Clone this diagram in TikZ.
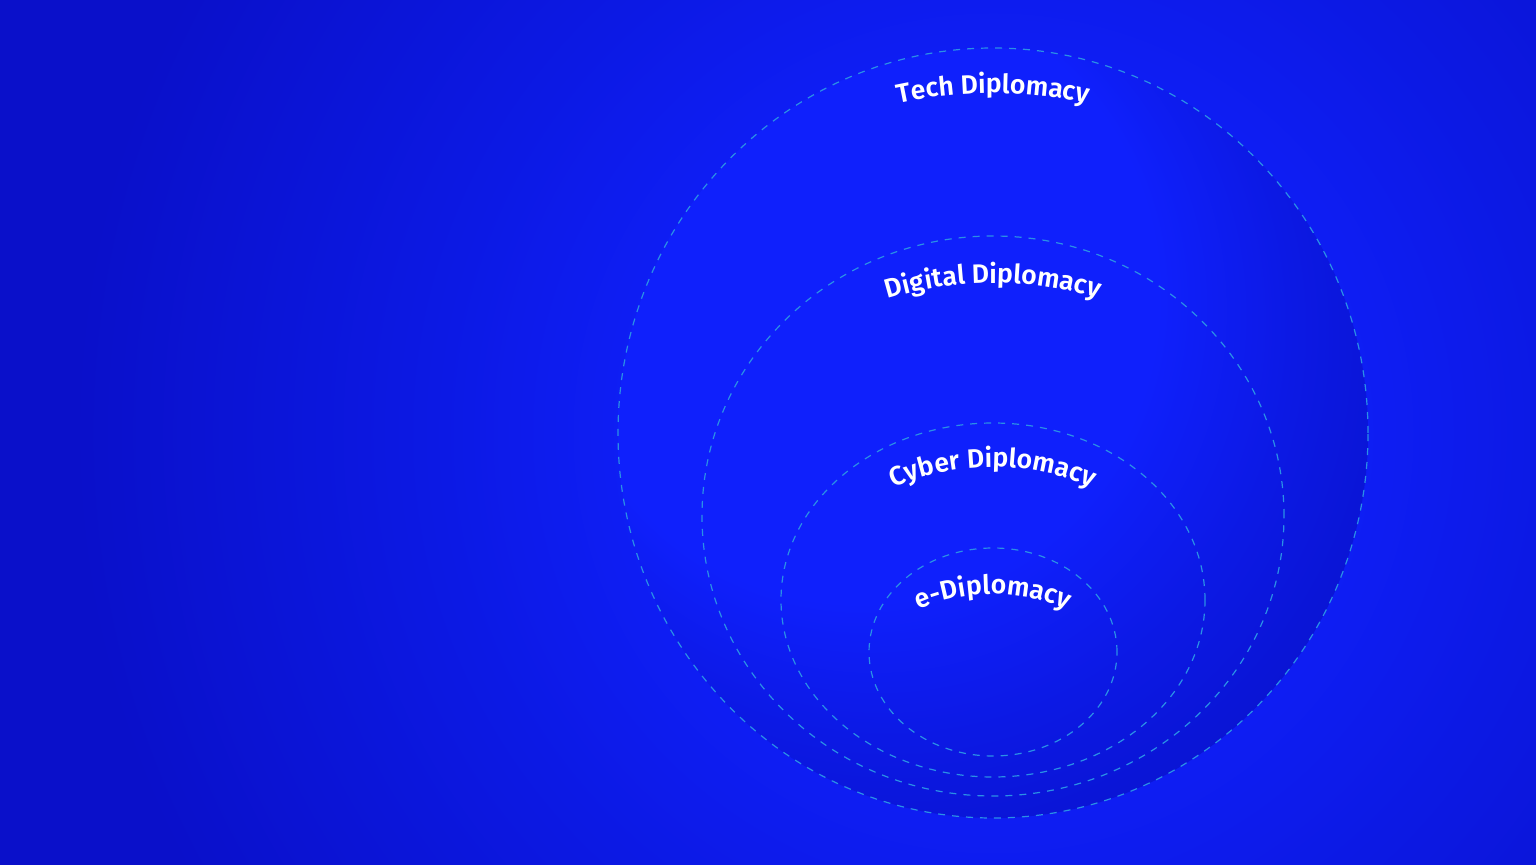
\documentclass[tikz,border=0pt]{standalone}
\usepackage{fontspec}
\usepackage{xcolor}
\usetikzlibrary{decorations.text}
\newfontfamily\labelfont{Fira Sans}[UprightFont={* SemiBold}]

\definecolor{bgdark}{HTML}{0A10CA}
\definecolor{bgmid}{HTML}{0C19E4}
\definecolor{glow}{HTML}{0F20FC}
\definecolor{shadow}{HTML}{0913D0}
\definecolor{ringline}{HTML}{2A90E6}

\pgfdeclareradialshading{backglow}{\pgfpoint{0bp}{0bp}}{color(0bp)=(glow); color(7bp)=(glow); color(14bp)=(bgmid); color(23bp)=(bgdark); color(50bp)=(bgdark)}
\pgfdeclareradialshading{sphere}{\pgfpoint{-15bp}{15bp}}{color(0bp)=(glow); color(20bp)=(glow); color(27bp)=(bgmid); color(34bp)=(shadow); color(50bp)=(shadow)}

\begin{document}
\begin{tikzpicture}[x=0.5pt, y=0.5pt,
    ring/.style={draw=ringline, line width=0.6pt, dash pattern=on 3.5pt off 3.5pt},
    ringlabel/.style={decorate, decoration={text along path, text align=center, text color=white}}]
    \useasboundingbox (0,0) rectangle (1536,864);

    % Background
    \fill[bgdark] (-6,-6) rectangle (1542,870);
    \begin{scope}
      \clip (-6,-6) rectangle (1542,870);
      \shade[shading=backglow] (993,431) circle (1000);
    \end{scope}

    % Tech Diplomacy
    \shade[shading=sphere] (993,431) ellipse [x radius=375, y radius=385];
    \draw[ring] (993,431) ellipse [x radius=375, y radius=385];
    \path[ringlabel, decoration={text={|\labelfont\fontsize{13.3}{16}\selectfont|Tech Diplomacy}}]
      (993,321) ++(112:450) arc (112:68:450);

    % Digital Diplomacy
    \draw[ring] (993,348) ellipse [x radius=291, y radius=280];
    \path[ringlabel, decoration={text={|\labelfont\fontsize{13.3}{16}\selectfont|Digital Diplomacy}}]
      (993,221) ++(115:360) arc (115:65:360);

    % Cyber Diplomacy
    \draw[ring] (993,264) ellipse [x radius=212, y radius=177];
    \path[ringlabel, decoration={text={|\labelfont\fontsize{13.3}{16}\selectfont|Cyber Diplomacy}}]
      (993,147) ++(122:250) arc (122:58:250);

    % e-Diplomacy
    \draw[ring] (993,212) ellipse [x radius=124, y radius=104];
    \path[ringlabel, decoration={text={|\labelfont\fontsize{13.3}{16}\selectfont|e-Diplomacy}}]
      (993,85) ++(130:185) arc (130:50:185);
  \end{tikzpicture}
\end{document}
